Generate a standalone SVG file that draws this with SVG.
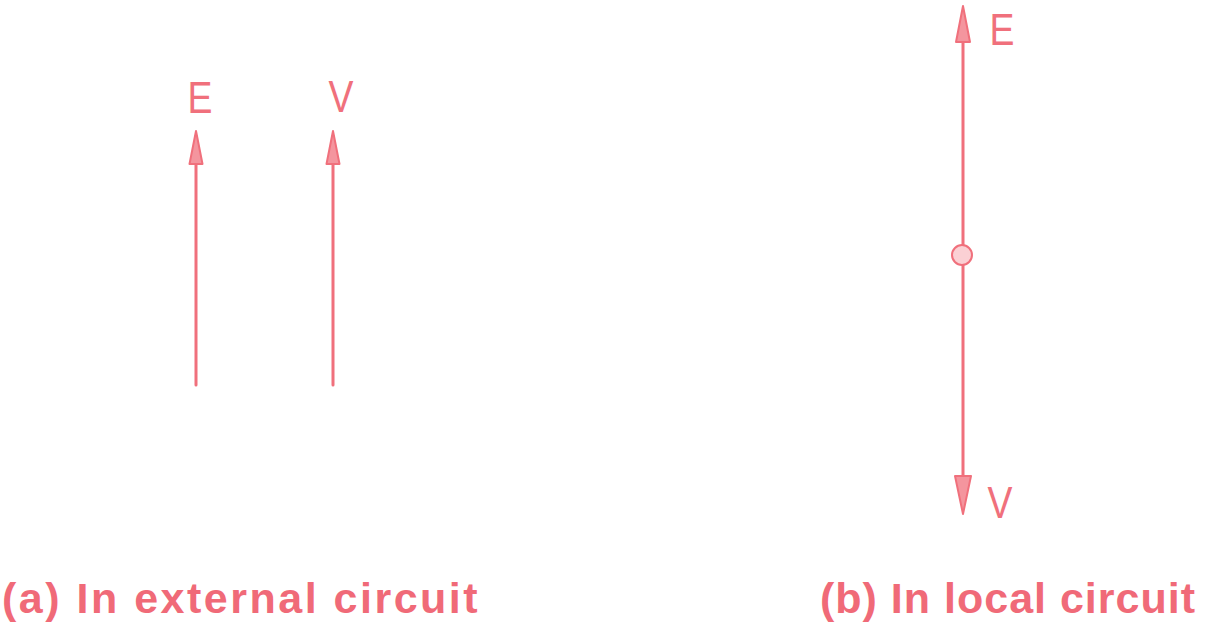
<svg xmlns="http://www.w3.org/2000/svg" width="1208" height="638" viewBox="0 0 1208 638">
<style>
.ln{stroke:#f0707c;stroke-width:3;fill:none;stroke-linecap:round}
.hd{fill:#f4959e;stroke:#f0707c;stroke-width:2;stroke-linejoin:round}
.lb{font-family:"Liberation Sans",Arial,sans-serif;font-size:44px;fill:#f0707c;text-anchor:middle}
.cap{font-family:"Liberation Sans",Arial,sans-serif;font-size:43px;font-weight:bold;fill:#f06a78;letter-spacing:2.5px}
</style>
<rect width="1208" height="638" fill="#ffffff"/>
<g id="connectors">
<g id="arrow-a-E">
<line class="ln" x1="196" y1="385" x2="196" y2="160"/>
<polygon class="hd" points="196,131 202.5,164 189.5,164"/>
</g>
<g id="arrow-a-V">
<line class="ln" x1="333" y1="385" x2="333" y2="160"/>
<polygon class="hd" points="333,131 339.5,164 326.5,164"/>
</g>
<g id="arrow-b-E">
<line class="ln" x1="963" y1="245" x2="963" y2="38"/>
<polygon class="hd" points="963,6 970,42 956,42"/>
</g>
<g id="arrow-b-V">
<line class="ln" x1="963" y1="265" x2="963" y2="480"/>
<polygon class="hd" points="963,514 971,476 955,476"/>
</g>
</g>
<g id="node-origin">
<circle cx="962" cy="255" r="10" fill="#fbd0d4" stroke="#f0707c" stroke-width="2"/>
</g>
<g id="label-a-E"><text class="lb" x="200" y="113" transform="translate(200 0) scale(0.85 1) translate(-200 0)">E</text></g>
<g id="label-a-V"><text class="lb" x="341" y="112" transform="translate(341 0) scale(0.85 1) translate(-341 0)">V</text></g>
<g id="label-b-E"><text class="lb" x="1002" y="45" transform="translate(1002 0) scale(0.85 1) translate(-1002 0)">E</text></g>
<g id="label-b-V"><text class="lb" x="1000" y="518" transform="translate(1000 0) scale(0.85 1) translate(-1000 0)">V</text></g>
<g id="caption-a"><text class="cap" x="2" y="613">(a) In external circuit</text></g>
<g id="caption-b"><text class="cap" x="820" y="613" style="letter-spacing:1px">(b) In local circuit</text></g>
</svg>
